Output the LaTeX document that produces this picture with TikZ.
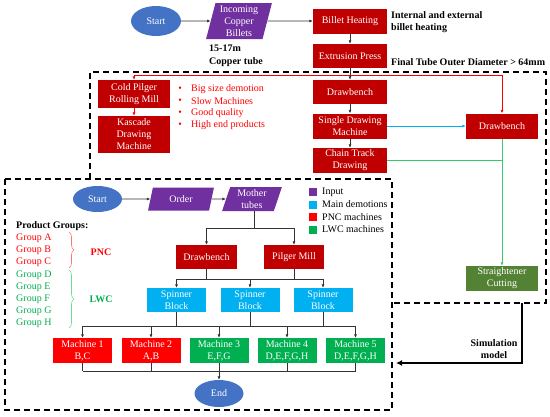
\documentclass[tikz,border=0pt]{standalone}
\usepackage{fontspec}
\setmainfont{Liberation Serif}
\usetikzlibrary{shapes.geometric,arrows.meta,decorations.pathreplacing,calc}
\definecolor{dred}{HTML}{C00000}
\definecolor{pur}{HTML}{7030A0}
\definecolor{ell}{HTML}{4472C4}
\definecolor{cyanb}{HTML}{00B0F0}
\definecolor{grn}{HTML}{00B050}
\definecolor{olivebox}{HTML}{548235}
\definecolor{rd}{HTML}{FF0000}
\definecolor{lgrn}{HTML}{33CC66}
\begin{document}
\begin{tikzpicture}[x=1pt,y=-1pt,
  font=\fontsize{10}{12}\selectfont,
  dbox/.style={fill=dred,text=white,align=center,inner sep=1pt},
  cbox/.style={fill=cyanb,text=white,align=center,inner sep=1pt},
  rbox/.style={fill=rd,text=white,align=center,inner sep=1pt},
  gbox/.style={fill=grn,text=white,align=center,inner sep=1pt},
  ovalnode/.style={ellipse,fill=ell,text=white,inner sep=0pt},
  para/.style={trapezium,trapezium stretches=true,trapezium left angle=76,trapezium right angle=104,fill=pur,text=white,align=center,inner sep=0pt},
  arr/.style={-{Latex[length=3.5pt,width=3pt]}},
  conn/.style={draw=black!80,line width=0.6pt},
  rline/.style={draw=rd,line width=0.6pt},
  bline/.style={draw=cyanb,line width=0.8pt},
  gline/.style={draw=lgrn,line width=0.8pt},
  dashbox/.style={draw=black,line width=1.5pt,dash pattern=on 6pt off 4pt},
  note/.style={font=\fontsize{10}{12.5}\selectfont\bfseries,align=left,inner sep=0pt},
  redtxt/.style={text=rd,inner sep=0pt,anchor=west},
  grtxt/.style={text=grn,inner sep=0pt,anchor=west}
]
\useasboundingbox (0,0) rectangle (550,416);

% dashed regions
\draw[dashbox] (90,179) -- (90,72) -- (546,72) -- (546,303) -- (394,303);
\draw[dashbox] (5,179) rectangle (392,410);

% ---------- upper part ----------
\node[ovalnode,minimum width=50pt,minimum height=30pt] (start1) at (156,21) {Start};
\node[para,minimum width=66pt,minimum height=36pt] (inc) at (239,21) {Incoming\\Copper\\Billets};
\node[note,anchor=north west] (t1517) at (209,45) {15-17m\\Copper tube};

\node[dbox,minimum width=74pt,minimum height=25pt] (billet) at (350,21) {Billet Heating};
\node[note,anchor=north west] (tint) at (391,11) {Internal and external\\billet heating};
\node[dbox,minimum width=74pt,minimum height=24pt] (ext) at (350,56) {Extrusion Press};
\node[note,anchor=south west] (tfin) at (391,66) {Final Tube Outer Diameter > 64mm};
\node[dbox,minimum width=74pt,minimum height=24pt] (db1) at (350,92) {Drawbench};
\node[dbox,minimum width=74pt,minimum height=25pt] (single) at (350,126) {Single Drawing\\Machine};
\node[dbox,minimum width=74pt,minimum height=25pt] (chain) at (350,160.5) {Chain Track\\Drawing};
\node[dbox,minimum width=72pt,minimum height=25pt] (db2) at (502,126) {Drawbench};
\node[fill=olivebox,text=white,align=center,inner sep=1pt,minimum width=72pt,minimum height=25pt] (st) at (502,278.5) {Straightener\\Cutting};

\node[dbox,minimum width=72pt,minimum height=28pt] (cp) at (134,94) {Cold Pilger\\Rolling Mill};
\node[dbox,minimum width=72pt,minimum height=37pt] (kas) at (134,134.5) {Kascade\\Drawing\\Machine};

\foreach \yy/\tt [count=\i] in {89/Big size demotion,101/Slow Machines,113/Good quality,125/High end products}{
  \node[text=rd,inner sep=0pt] (bul\i) at (180,\yy) {\textbullet};
  \node[redtxt] (btx\i) at (191,\yy) {\tt};
}

% upper connectors
\draw[conn,arr] (start1) -- (inc);
\draw[conn,arr] (inc) -- (billet);
\draw[conn,arr] (billet) -- (ext);
\coordinate (rj) at (350,75);
\draw[rline,arr] (rj) -| (cp.north);
\draw[rline,arr] (rj) -| (db2.north);
\draw[conn,arr] (ext) -- (db1);
\draw[conn,arr] (db1) -- (single);
\draw[conn,arr] (single) -- (chain);
\draw[rline,arr] (cp) -- (kas);
\draw[bline,arr] (single) -- (db2);
\draw[gline,arr] (db2) -- (st);
\draw[gline] (chain.east) -- (chain.east -| db2.south);

% simulation model arrow
\coordinate (simA) at (522,303);
\coordinate (simB) at (396,363);
\draw[line width=1.8pt,-{Latex[length=6pt,width=6pt]}] (simA) |- (simB);
\node[note,align=center] (simtxt) at (494,349) {Simulation\\model};

% ---------- lower part ----------
\node[ovalnode,minimum width=49pt,minimum height=26pt] (start2) at (97.5,199) {Start};
\node[para,trapezium left angle=74,trapezium right angle=106,minimum width=66pt,minimum height=23pt] (order) at (181,199) {Order};
\node[para,trapezium left angle=74,trapezium right angle=106,minimum width=60pt,minimum height=24pt] (mother) at (252,199) {Mother\\tubes};

% legend
\fill[pur] (309,188) rectangle (317,196);
\fill[cyanb] (309,200.5) rectangle (317,208.5);
\fill[rd] (309,213) rectangle (317,221);
\fill[grn] (309,225.5) rectangle (317,233.5);
\node[anchor=west,inner sep=0pt] (lg1) at (322,192) {Input};
\node[anchor=west,inner sep=0pt] (lg2) at (322,204.5) {Main demotions};
\node[anchor=west,inner sep=0pt] (lg3) at (322,217) {PNC machines};
\node[anchor=west,inner sep=0pt] (lg4) at (322,229.5) {LWC machines};

% product groups
\node[anchor=west,inner sep=0pt,font=\fontsize{10}{12}\selectfont\bfseries] (pg) at (16,226) {Product Groups:};
\node[redtxt] (gA) at (16,238) {Group A};
\node[redtxt] (gB) at (16,250.2) {Group B};
\node[redtxt] (gC) at (16,262.4) {Group C};
\node[grtxt] (gD) at (16,274.8) {Group D};
\node[grtxt] (gE) at (16,287) {Group E};
\node[grtxt] (gF) at (16,299.2) {Group F};
\node[grtxt] (gG) at (16,311.4) {Group G};
\node[grtxt] (gH) at (16,323.6) {Group H};
\draw[rd!55,line width=0.6pt,decorate,decoration={brace,amplitude=5pt}] (69,232) -- (69,268);
\draw[lgrn!70,line width=0.6pt,decorate,decoration={brace,amplitude=5pt}] (69,270) -- (69,328);
\node[text=rd,font=\fontsize{10}{12}\selectfont\bfseries,inner sep=0pt] (pnc) at (101,252) {PNC};
\node[text=grn,font=\fontsize{10}{12}\selectfont\bfseries,inner sep=0pt] (lwc) at (101,299) {LWC};

\node[dbox,minimum width=61pt,minimum height=24pt] (dbL) at (206.5,257) {Drawbench};
\node[dbox,minimum width=60pt,minimum height=24pt] (pil) at (294,257) {Pilger Mill};

\node[cbox,minimum width=59pt,minimum height=24pt] (sp1) at (176.5,300) {Spinner\\Block};
\node[cbox,minimum width=59pt,minimum height=24pt] (sp2) at (250,300) {Spinner\\Block};
\node[cbox,minimum width=59pt,minimum height=24pt] (sp3) at (323,300) {Spinner\\Block};

\node[rbox,minimum width=59pt,minimum height=25pt] (m1) at (82.5,350.5) {Machine 1\\B,C};
\node[rbox,minimum width=59pt,minimum height=25pt] (m2) at (151,350.5) {Machine 2\\A,B};
\node[gbox,minimum width=59pt,minimum height=25pt] (m3) at (219,350.5) {Machine 3\\E,F,G};
\node[gbox,minimum width=59pt,minimum height=25pt] (m4) at (287,350.5) {Machine 4\\D,E,F,G,H};
\node[gbox,minimum width=59pt,minimum height=25pt] (m5) at (355.5,350.5) {Machine 5\\D,E,F,G,H};

\node[ovalnode,minimum width=49pt,minimum height=27pt] (endn) at (219,393.5) {End};

% lower connectors
\draw[conn,arr] (start2) -- (order);
\draw[conn,arr] (order) -- (mother);
\coordinate (mj) at (254,228);
\draw[conn] (mother.south -| mj) -- (mj);
\draw[conn,arr] (mj) -| (dbL.north);
\draw[conn,arr] (mj) -| (pil.north);

\coordinate (r1) at (0,279);
\draw[conn] (dbL.south) -- (dbL.south |- r1);
\draw[conn] (pil.south) -- (pil.south |- r1);
\draw[conn] (sp1.north |- r1) -- (sp3.north |- r1);
\foreach \s in {sp1,sp2,sp3}{\draw[conn,arr] (\s.north |- r1) -- (\s.north);}

\coordinate (r2) at (0,326);
\foreach \s in {sp1,sp2,sp3}{\draw[conn] (\s.south) -- (\s.south |- r2);}
\draw[conn] (m1.north |- r2) -- (m5.north |- r2);
\foreach \s in {m1,m2,m3,m4,m5}{\draw[conn,arr] (\s.north |- r2) -- (\s.north);}

\coordinate (r3) at (0,371);
\foreach \s in {m1,m2,m3,m4,m5}{\draw[conn] (\s.south) -- (\s.south |- r3);}
\draw[conn] (m1.south |- r3) -- (m5.south |- r3);
\draw[conn,arr] (endn.north |- r3) -- (endn.north);
\end{tikzpicture}
\end{document}
